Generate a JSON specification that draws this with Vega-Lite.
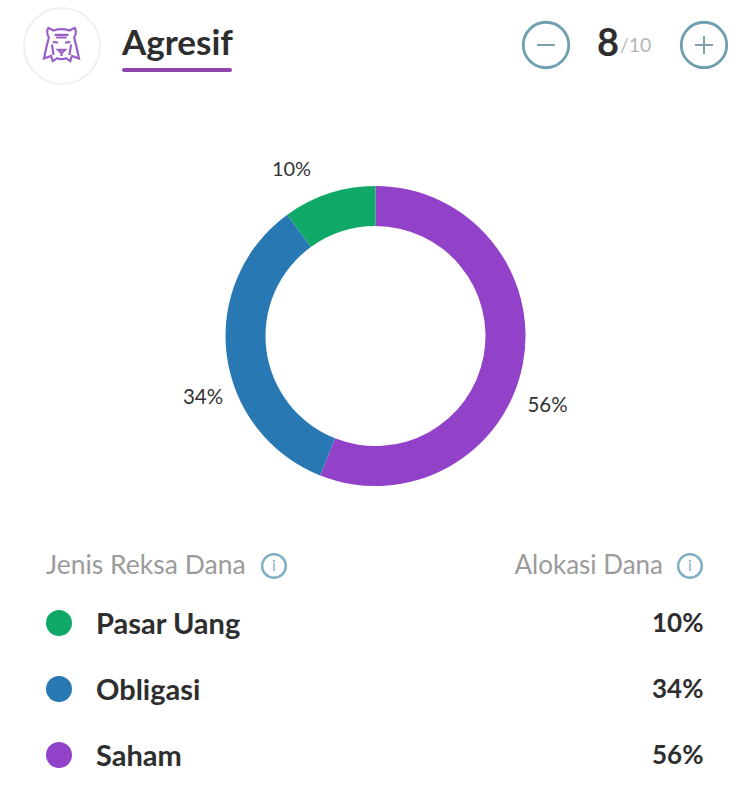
{
"$schema":"https://vega.github.io/schema/vega-lite/v6.json",
"width":750,"height":798,"padding":0,"autosize":{"type":"none"},
"background":"#ffffff",
"config":{"view":{"stroke":null},"text":{"font":"Lato"}},
"data":{"values":[
{"jenis":"Saham","alokasi":56,"label":"56%","urut":1},
{"jenis":"Obligasi","alokasi":34,"label":"34%","urut":2},
{"jenis":"Pasar Uang","alokasi":10,"label":"10%","urut":3}
]},
"layer":[
{"mark":{"type":"arc","innerRadius":110,"outerRadius":150},
 "encoding":{"theta":{"field":"alokasi","type":"quantitative","stack":true,"scale":{"domain":[0,100],"range":[0,6.2832]}},
 "order":{"field":"urut","type":"ordinal"},
 "x":{"value":375.5},"y":{"value":336},
 "color":{"field":"jenis","type":"nominal","legend":null,"scale":{"domain":["Pasar Uang","Obligasi","Saham"],"range":["#10a866","#2878b4","#9241c9"]}}}},
{"transform":[{"filter":"datum.jenis==='Pasar Uang'"}],"mark":{"type":"text","fontSize":20,"color":"#333333","align":"center","baseline":"middle"},"encoding":{"text":{"field":"label"},"x":{"value":291.5},"y":{"value":170}}},
{"transform":[{"filter":"datum.jenis==='Obligasi'"}],"mark":{"type":"text","fontSize":20.5,"color":"#333333","align":"center","baseline":"middle"},"encoding":{"text":{"field":"label"},"x":{"value":203},"y":{"value":398}}},
{"transform":[{"filter":"datum.jenis==='Saham'"}],"mark":{"type":"text","fontSize":20.5,"color":"#333333","align":"center","baseline":"middle"},"encoding":{"text":{"field":"label"},"x":{"value":547.5},"y":{"value":406}}},
{"mark":{"type":"point","filled":true,"shape":"circle","size":676,"opacity":1},
 "encoding":{"x":{"value":59},
 "y":{"field":"jenis","type":"ordinal","axis":null,"scale":{"type":"point","padding":0,"domain":["Pasar Uang","Obligasi","Saham"],"range":[623,755]}},
 "color":{"field":"jenis","type":"nominal","legend":null}}},
{"mark":{"type":"text","fontSize":29,"fontWeight":"bold","color":"#2e2e2e","align":"left","baseline":"middle","dy":2},
 "encoding":{"x":{"value":96},"y":{"field":"jenis","type":"ordinal","axis":null},"text":{"field":"jenis"}}},
{"mark":{"type":"text","fontSize":26,"fontWeight":"bold","color":"#2e2e2e","align":"right","baseline":"middle","dy":1},
 "encoding":{"x":{"value":703.5},"y":{"field":"jenis","type":"ordinal","axis":null},"text":{"field":"label"}}},
{"data":{"values":[{"t":"Jenis Reksa Dana"}]},"mark":{"type":"text","fontSize":26.5,"color":"#9b9b9b","align":"left","baseline":"middle"},"encoding":{"text":{"field":"t"},"x":{"value":46},"y":{"value":566}}},
{"data":{"values":[{"t":"Alokasi Dana"}]},"mark":{"type":"text","fontSize":26,"color":"#9b9b9b","align":"right","baseline":"middle"},"encoding":{"text":{"field":"t"},"x":{"value":663},"y":{"value":566}}},
{"data":{"values":[{"t":"i"}]},"mark":{"type":"text","fontSize":16,"color":"#7fb0c6","align":"center","baseline":"middle"},"encoding":{"text":{"field":"t"},"x":{"value":274},"y":{"value":566}}},
{"data":{"values":[{"t":"i"}]},"mark":{"type":"text","fontSize":16,"color":"#7fb0c6","align":"center","baseline":"middle"},"encoding":{"text":{"field":"t"},"x":{"value":690},"y":{"value":566}}},
{"data":{"values":[{"t":"info"}]},"mark":{"type":"point","shape":"circle","size":560,"stroke":"#7fb0c6","strokeWidth":2.5,"fill":null,"opacity":1},"encoding":{"x":{"value":274},"y":{"value":566}}},
{"data":{"values":[{"t":"info"}]},"mark":{"type":"point","shape":"circle","size":560,"stroke":"#7fb0c6","strokeWidth":2.5,"fill":null,"opacity":1},"encoding":{"x":{"value":690},"y":{"value":566}}},
{"data":{"values":[{"t":"ikon"}]},"mark":{"type":"point","shape":"circle","size":5776,"filled":true,"fill":"#ffffff","stroke":"#f0f0f0","strokeWidth":2,"opacity":1},"encoding":{"x":{"value":62},"y":{"value":46}}},
{"data":{"values":[{"t":"ikon"}]},"mark":{"type":"point","shape":"M-0.75,-0.95 L-0.45,-0.8 Q0,-0.95 0.45,-0.8 L0.75,-0.95 Q0.9,-0.7 0.72,-0.4 L0.85,0.1 L1,0.8 L0.6,0.65 L0.5,0.95 L0.25,0.78 Q0,0.9 -0.25,0.78 L-0.5,0.95 L-0.6,0.65 L-1,0.8 L-0.85,0.1 L-0.72,-0.4 Q-0.9,-0.7 -0.75,-0.95 Z M-0.4,-0.55 H0.4 M-0.3,-0.4 H0.3 M-0.5,-0.15 L-0.2,-0.1 M0.5,-0.15 L0.2,-0.1 M-0.2,0.3 H0.2 L0,0.5 Z M0,0.5 V0.65 M-0.55,0 L-0.45,0.6 M0.55,0 L0.45,0.6","size":1225,"stroke":"#9a5fc8","strokeWidth":2.2,"fill":null,"opacity":1},"encoding":{"x":{"value":61.5},"y":{"value":44.5}}},
{"data":{"values":[{"t":"Agresif"}]},"mark":{"type":"text","fontSize":35,"fontWeight":"bold","color":"#2e2e2e","align":"left","baseline":"middle"},"encoding":{"text":{"field":"t"},"x":{"value":122},"y":{"value":44}}},
{"data":{"values":[{"t":"garis"}]},"mark":{"type":"rule","stroke":"#8e44ad","strokeWidth":4,"strokeCap":"round"},"encoding":{"x":{"value":124},"x2":{"value":230},"y":{"value":70}}},
{"data":{"values":[{"t":"8"}]},"mark":{"type":"text","fontSize":38,"fontWeight":"bold","color":"#2e2e2e","align":"right","baseline":"middle"},"encoding":{"text":{"field":"t"},"x":{"value":619},"y":{"value":45}}},
{"data":{"values":[{"t":"/10"}]},"mark":{"type":"text","fontSize":19.5,"color":"#b5b5b5","align":"left","baseline":"middle"},"encoding":{"text":{"field":"t"},"x":{"value":620},"y":{"value":46}}},
{"data":{"values":[{"t":"kurang"}]},"mark":{"type":"point","shape":"circle","size":2070,"stroke":"#6f9fb0","strokeWidth":2.8,"fill":null,"opacity":1},"encoding":{"x":{"value":546},"y":{"value":45}}},
{"data":{"values":[{"t":"tambah"}]},"mark":{"type":"point","shape":"circle","size":2070,"stroke":"#6f9fb0","strokeWidth":2.8,"fill":null,"opacity":1},"encoding":{"x":{"value":704},"y":{"value":45}}},
{"data":{"values":[{"t":"kurang"}]},"mark":{"type":"rule","stroke":"#7d9fae","strokeWidth":2},"encoding":{"x":{"value":537},"x2":{"value":555},"y":{"value":45}}},
{"data":{"values":[{"t":"tambah"}]},"mark":{"type":"rule","stroke":"#7d9fae","strokeWidth":2},"encoding":{"x":{"value":695},"x2":{"value":713},"y":{"value":45}}},
{"data":{"values":[{"t":"tambah"}]},"mark":{"type":"rule","stroke":"#7d9fae","strokeWidth":2},"encoding":{"x":{"value":704},"y":{"value":36},"y2":{"value":54}}}
]
}
